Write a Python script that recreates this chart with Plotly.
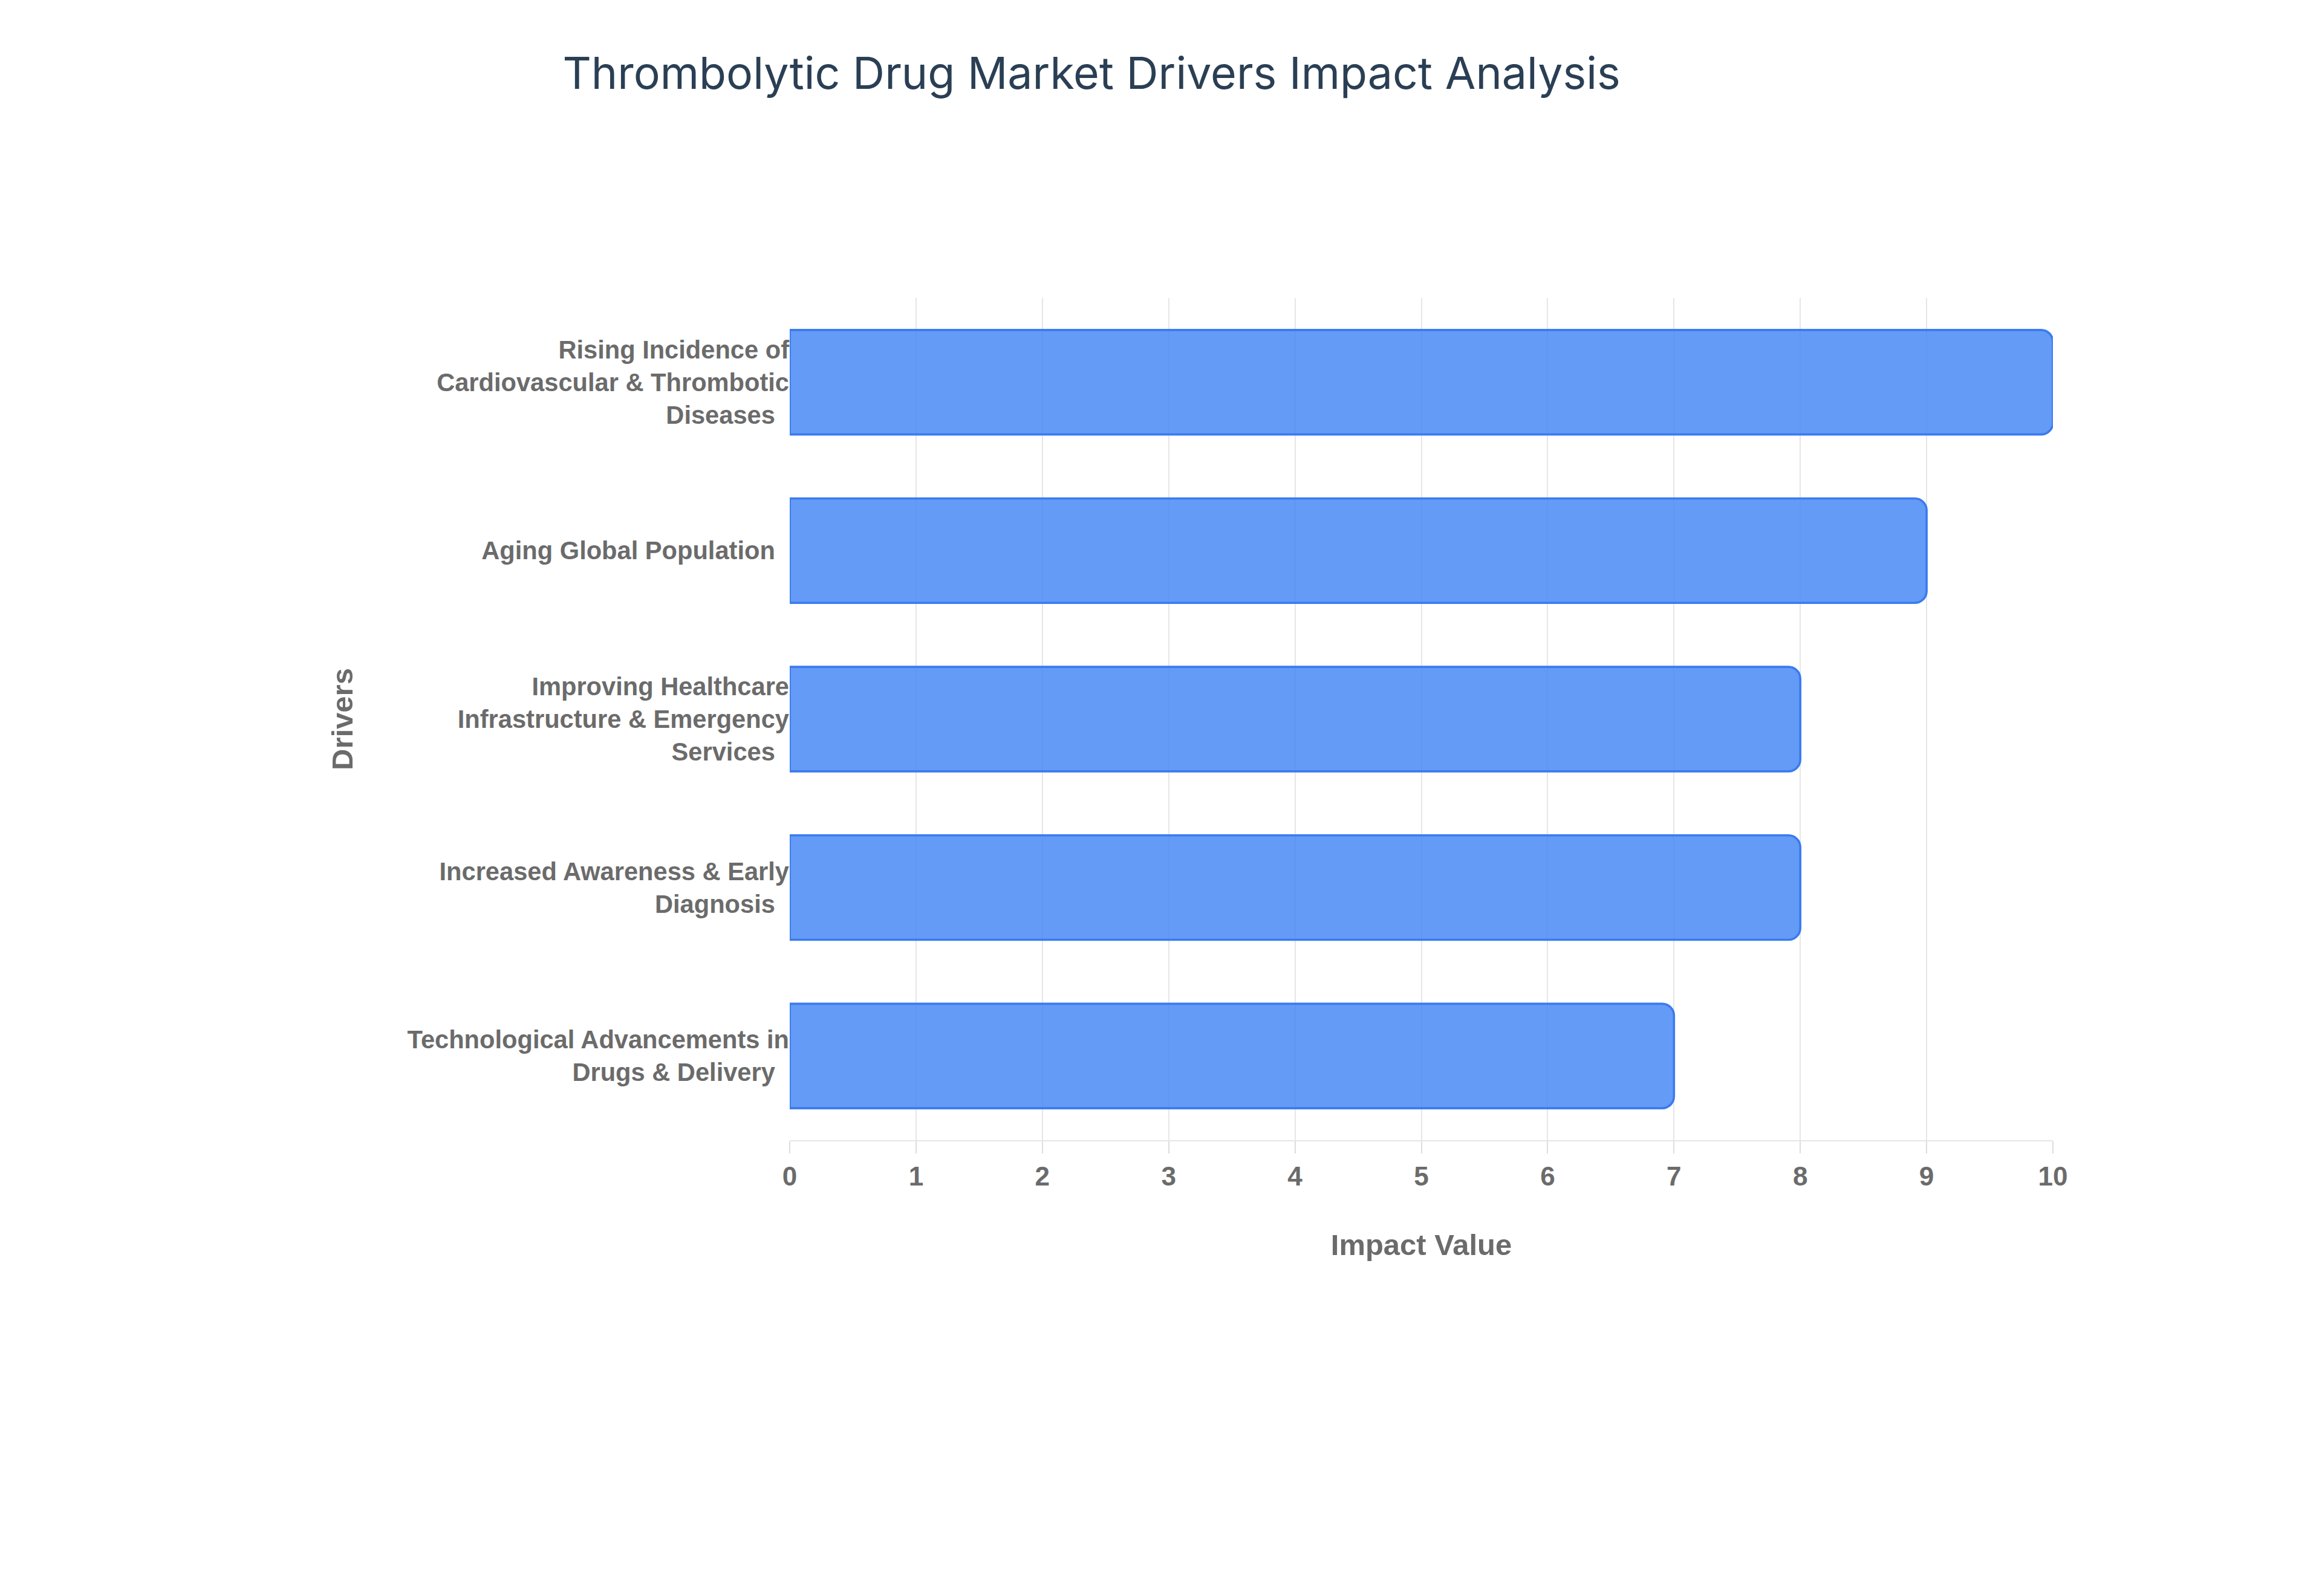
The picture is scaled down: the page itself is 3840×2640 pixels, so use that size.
import plotly.graph_objects as go

drivers = [
    "Technological Advancements in<br>Drugs & Delivery",
    "Increased Awareness & Early<br>Diagnosis",
    "Improving Healthcare<br>Infrastructure & Emergency<br>Services",
    "Aging Global Population",
    "Rising Incidence of<br>Cardiovascular & Thrombotic<br>Diseases",
]
impact = [7, 8, 8, 9, 10]
tick_vals = list(range(0, 11))

S = 2.449
gray = "#6b6b6b"
fig = go.Figure(go.Bar(
    y=drivers, x=impact, orientation="h", width=0.62,
    marker=dict(color="rgba(66,133,244,0.82)", line=dict(color="#3b7bf0", width=1.5*S),
                cornerradius=8*S),
))
fig.update_layout(
    width=3840, height=2640, plot_bgcolor="white", paper_bgcolor="white",
    margin=dict(l=1298, r=453, t=485, b=762),
    title=dict(text="Thrombolytic Drug Market Drivers Impact Analysis",
               x=0.468, xanchor="center", y=0.967, yanchor="top",
               font=dict(family="Inter", size=30*S, color="#2a3f54")),
    showlegend=False,
)
fig.update_xaxes(range=[0, 10], tickvals=tick_vals, showgrid=True, gridcolor="#e6e6e6",
                 gridwidth=1*S, ticks="outside", ticklen=8*S, tickcolor="#dddddd",
                 tickwidth=1*S, showline=True, linecolor="#e6e6e6", linewidth=1*S,
                 zeroline=False, automargin=False,
                 tickfont=dict(family="Liberation Sans", size=18*S, color=gray, weight="bold"),
                 title=dict(text="Impact Value", standoff=30*S,
                            font=dict(family="Liberation Sans", size=20*S, color=gray, weight="bold")))
fig.update_yaxes(showgrid=False, showline=False, ticks="", ticklabelstandoff=22*S if False else None,
                 automargin=False,
                 tickfont=dict(family="Liberation Sans", size=17*S, color=gray, weight="bold"),
                 title=dict(text="Drivers", standoff=30*S,
                            font=dict(family="Liberation Sans", size=20*S, color=gray, weight="bold")))
fig.update_yaxes(ticksuffix="  ")
fig.write_html("out.html")
